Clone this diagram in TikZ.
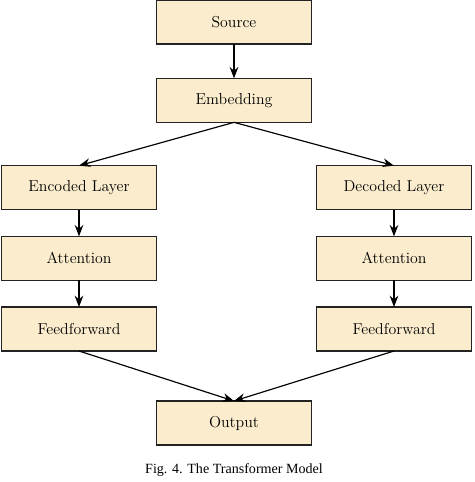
\documentclass[tikz,border=0pt]{standalone}
\usepackage{fontspec}
\newfontfamily\captionfont{Liberation Serif}
\usepackage{tikz}
\usetikzlibrary{arrows.meta,positioning,calc}
\definecolor{boxcolor}{RGB}{250,236,204}
\definecolor{edgecolor}{RGB}{35,35,35}

\begin{document}
\begin{tikzpicture}[
    node distance=1.2cm,
    block/.style={rectangle, draw=edgecolor, line width=1.1pt, outer sep=0pt, fill=boxcolor, minimum width=4.65cm, minimum height=1.32cm, text centered, font=\fontsize{13.5}{15}\selectfont},
    arrow/.style={-{Stealth[length=3.4mm,width=2.6mm]},line width=1pt},
    caption/.style={font=\captionfont\fontsize{12}{14}\selectfont}
]
\useasboundingbox (-7.02,0.66) rectangle (7.2,-13.8);

% Top
\node[block] (source) {Source};
\node[block, below=1.03cm of source] (embedding) {Embedding};

% Encoder side
\node[block, below left=1.3cm and 0cm of embedding.south west] (enc_layer) {Encoded Layer};
\node[block, below=0.8cm of enc_layer] (enc_attn) {Attention};
\node[block, below=0.8cm of enc_attn] (enc_ff) {Feedforward};

% Decoder side
\node[block, below right=1.3cm and 0.15cm of embedding.south east] (dec_layer) {Decoded Layer};
\node[block, below=0.8cm of dec_layer] (dec_attn) {Attention};
\node[block, below=0.8cm of dec_attn] (dec_ff) {Feedforward};

% Output
\coordinate (ff_mid) at (enc_ff.south -| embedding.south);
\node[block, below=1.5cm of ff_mid] (output) {Output};
\node[caption, below=0.42cm of output] (fig_caption) {Fig. 4. The Transformer Model};

% Arrows
\draw[arrow] (source) -- (embedding);
\draw[arrow] (embedding.south) -- (enc_layer.north);
\draw[arrow] (embedding.south) -- (dec_layer.north);
\draw[arrow] (enc_layer) -- (enc_attn);
\draw[arrow] (enc_attn) -- (enc_ff);
\draw[arrow] (dec_layer) -- (dec_attn);
\draw[arrow] (dec_attn) -- (dec_ff);
\draw[arrow] (enc_ff.south) -- (output.north);
\draw[arrow] (dec_ff.south) -- (output.north);

\end{tikzpicture}
\end{document}
